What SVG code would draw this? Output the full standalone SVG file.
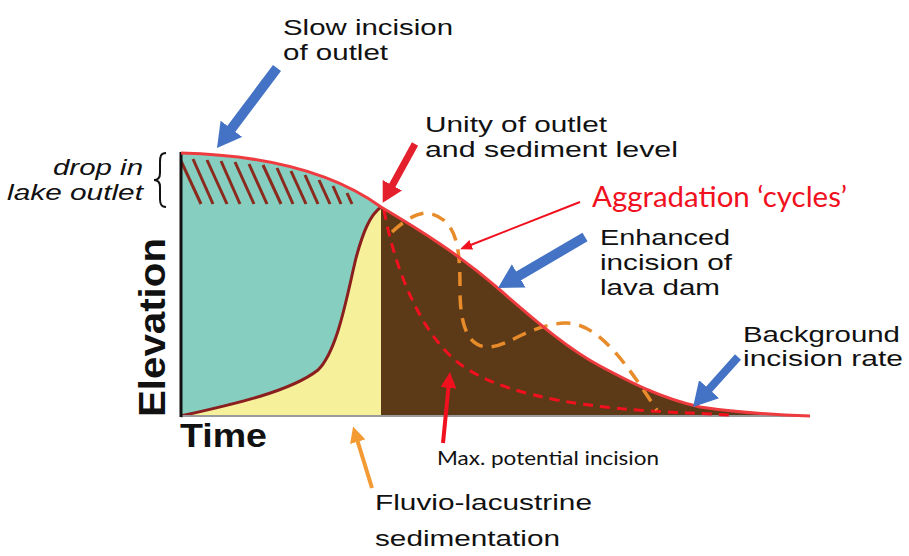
<svg xmlns="http://www.w3.org/2000/svg" width="909" height="556" viewBox="0 0 909 556">
<style>
.lbl{font-family:"Liberation Sans",Arial,sans-serif;font-size:22.5px;fill:#111}
.cal{font-family:Lato,"Open Sans",sans-serif}
.hatch{stroke:#8B2A1C;stroke-width:3;stroke-linecap:butt}
.blue{stroke:#4472C4;fill:none}
</style>
<defs>
<marker id="bh" markerUnits="userSpaceOnUse" markerWidth="24" markerHeight="27" viewBox="0 0 24 27" refX="10" refY="13.5" orient="auto"><path d="M0,0 L24,13.5 L0,27 z" fill="#4472C4"/></marker>
<marker id="rh" markerUnits="userSpaceOnUse" markerWidth="20" markerHeight="22" viewBox="0 0 20 22" refX="8" refY="11" orient="auto"><path d="M0,0 L20,11 L0,22 z" fill="#E3202B"/></marker>
<marker id="rs" markerUnits="userSpaceOnUse" markerWidth="16" markerHeight="16" viewBox="0 0 16 16" refX="6" refY="8" orient="auto"><path d="M0,0 L16,8 L0,16 z" fill="#F0101E"/></marker>
<marker id="rt" markerUnits="userSpaceOnUse" markerWidth="12" markerHeight="10" viewBox="0 0 12 10" refX="4" refY="5" orient="auto"><path d="M0,0 L12,5 L0,10 z" fill="#F0101E"/></marker>
<marker id="oh" markerUnits="userSpaceOnUse" markerWidth="16" markerHeight="16" viewBox="0 0 16 16" refX="6" refY="8" orient="auto"><path d="M0,0 L16,8 L0,16 z" fill="#F39A33"/></marker>
<clipPath id="tealclip"><path d="M181,153 C260,155 330,170 381,207 L181,207 Z"/></clipPath>
</defs>

<g id="teal-region">
<path d="M181,153 C260,155 330,170 381,207 L381,416 L181,416 Z" fill="#86CFC0"/>
</g>
<g id="yellow-region">
<path d="M181,416 C230,405 290,392 318,370 C338,350 347,295 356,258 C363,232 370,215 381,207 L381,416 Z" fill="#F7F09A"/>
</g>
<g id="brown-region">
<path d="M381,207 C420,230 460,255 500,290 C540,325 570,350 600,366 C630,382 660,398 700,407 C740,413 780,415 810,416 L381,416 Z" fill="#5C3A17"/>
</g>
<g id="hatching" clip-path="url(#tealclip)">
<line class="hatch" x1="181" y1="161" x2="201" y2="204"/>
<line class="hatch" x1="193" y1="159" x2="213" y2="204"/>
<line class="hatch" x1="207" y1="160" x2="227" y2="204"/>
<line class="hatch" x1="221" y1="161" x2="240" y2="204"/>
<line class="hatch" x1="235" y1="162" x2="254" y2="204"/>
<line class="hatch" x1="249" y1="164" x2="267" y2="204"/>
<line class="hatch" x1="263" y1="165" x2="281" y2="204"/>
<line class="hatch" x1="277" y1="168" x2="293" y2="204"/>
<line class="hatch" x1="291" y1="171" x2="306" y2="204"/>
<line class="hatch" x1="305" y1="175" x2="318" y2="204"/>
<line class="hatch" x1="319" y1="180" x2="330" y2="204"/>
<line class="hatch" x1="333" y1="186" x2="341" y2="204"/>
<line class="hatch" x1="347" y1="193" x2="352" y2="204"/>
</g>
<g id="sediment-curve">
<path d="M181,416 C230,405 290,392 318,370 C338,350 347,295 356,258 C363,232 370,215 381,207" fill="none" stroke="#8B1E1E" stroke-width="3"/>
</g>
<g id="axes">
<line x1="181" y1="416" x2="810" y2="416" stroke="#9A9A9A" stroke-width="2"/>
<line x1="181" y1="152" x2="181" y2="417" stroke="#111" stroke-width="3"/>
</g>
<g id="max-incision-curve">
<path d="M384,210 C395,270 420,330 455,360 C490,390 560,405 650,411 L730,415" fill="none" stroke="#F0101E" stroke-width="3" stroke-dasharray="10,7"/>
</g>
<g id="aggradation-curve">
<path d="M392,232 C405,220 420,210 432,214 C458,222 460,250 460,290 C460,330 470,348 490,347 C510,345 530,325 565,323 C600,322 630,370 657,410" fill="none" stroke="#E88B2A" stroke-width="3.5" stroke-dasharray="14,9"/>
</g>
<g id="outlet-curve">
<path d="M181,153 C260,155 330,170 381,207 C420,230 460,255 500,290 C540,325 570,350 600,366 C630,382 660,398 700,407 C740,413 780,415 810,416" fill="none" stroke="#EE3B3F" stroke-width="3"/>
</g>

<g id="connectors">
<line class="blue" x1="277" y1="68" x2="225.4" y2="136.8" stroke-width="10" marker-end="url(#bh)"/>
<line class="blue" x1="585" y1="237" x2="510.1" y2="280.9" stroke-width="10" marker-end="url(#bh)"/>
<line class="blue" x1="738" y1="357" x2="702.4" y2="396.6" stroke-width="8" marker-end="url(#bh)"/>
<line x1="415" y1="144" x2="388.5" y2="192.3" stroke="#E3202B" stroke-width="7" marker-end="url(#rh)"/>
<line x1="580" y1="202" x2="467.5" y2="246.2" stroke="#F0101E" stroke-width="2" marker-end="url(#rt)"/>
<line x1="443" y1="443" x2="449" y2="382" stroke="#F0101E" stroke-width="4" marker-end="url(#rs)"/>
<line x1="372" y1="488" x2="356" y2="436" stroke="#F39A33" stroke-width="4" marker-end="url(#oh)"/>
</g>

<g id="label-slow">
<text class="lbl" x="283" y="35" textLength="170" lengthAdjust="spacingAndGlyphs">Slow incision</text>
<text class="lbl" x="283" y="60" textLength="105" lengthAdjust="spacingAndGlyphs">of outlet</text>
</g>
<g id="label-unity">
<text class="lbl" x="425" y="132" textLength="182" lengthAdjust="spacingAndGlyphs">Unity of outlet</text>
<text class="lbl" x="425" y="157" textLength="253" lengthAdjust="spacingAndGlyphs">and sediment level</text>
</g>
<g id="label-aggradation">
<text class="cal" x="592" y="207" font-size="28" fill="#F0101E" textLength="255" lengthAdjust="spacingAndGlyphs">Aggradation ‘cycles’</text>
</g>
<g id="label-enhanced">
<text class="lbl" x="600" y="245" textLength="130" lengthAdjust="spacingAndGlyphs">Enhanced</text>
<text class="lbl" x="600" y="270" textLength="132" lengthAdjust="spacingAndGlyphs">incision of</text>
<text class="lbl" x="600" y="295" textLength="120" lengthAdjust="spacingAndGlyphs">lava dam</text>
</g>
<g id="label-background">
<text class="lbl" x="743" y="342" textLength="157" lengthAdjust="spacingAndGlyphs">Background</text>
<text class="lbl" x="743" y="366" textLength="160" lengthAdjust="spacingAndGlyphs">incision rate</text>
</g>
<g id="label-drop">
<text class="lbl" x="143" y="175" text-anchor="end" font-style="italic" font-size="21" textLength="90" lengthAdjust="spacingAndGlyphs">drop in</text>
<text class="lbl" x="143" y="200" text-anchor="end" font-style="italic" font-size="21" textLength="136" lengthAdjust="spacingAndGlyphs">lake outlet</text>
<path d="M166,153 C161,153 160,156 160,162 L160,173 C160,178 158,180 154,180 C158,180 160,182 160,187 L160,199 C160,204 161,207 166,207" fill="none" stroke="#111" stroke-width="2"/>
</g>
<g id="label-elevation">
<text x="165" y="417" transform="rotate(-90 165 417)" font-family="Liberation Sans,Arial,sans-serif" font-weight="bold" font-size="37" fill="#111" textLength="179" lengthAdjust="spacingAndGlyphs">Elevation</text>
</g>
<g id="label-time">
<text x="180" y="447" font-family="Liberation Sans,Arial,sans-serif" font-weight="bold" font-size="33" fill="#111" textLength="87" lengthAdjust="spacingAndGlyphs">Time</text>
</g>
<g id="label-max">
<text class="cal" x="437" y="465" font-size="19" fill="#111" textLength="222" lengthAdjust="spacingAndGlyphs">Max. potential incision</text>
</g>
<g id="label-fluvio">
<text class="lbl" x="375" y="510" textLength="217" lengthAdjust="spacingAndGlyphs">Fluvio-lacustrine</text>
<text class="lbl" x="375" y="546" textLength="185" lengthAdjust="spacingAndGlyphs">sedimentation</text>
</g>
</svg>
